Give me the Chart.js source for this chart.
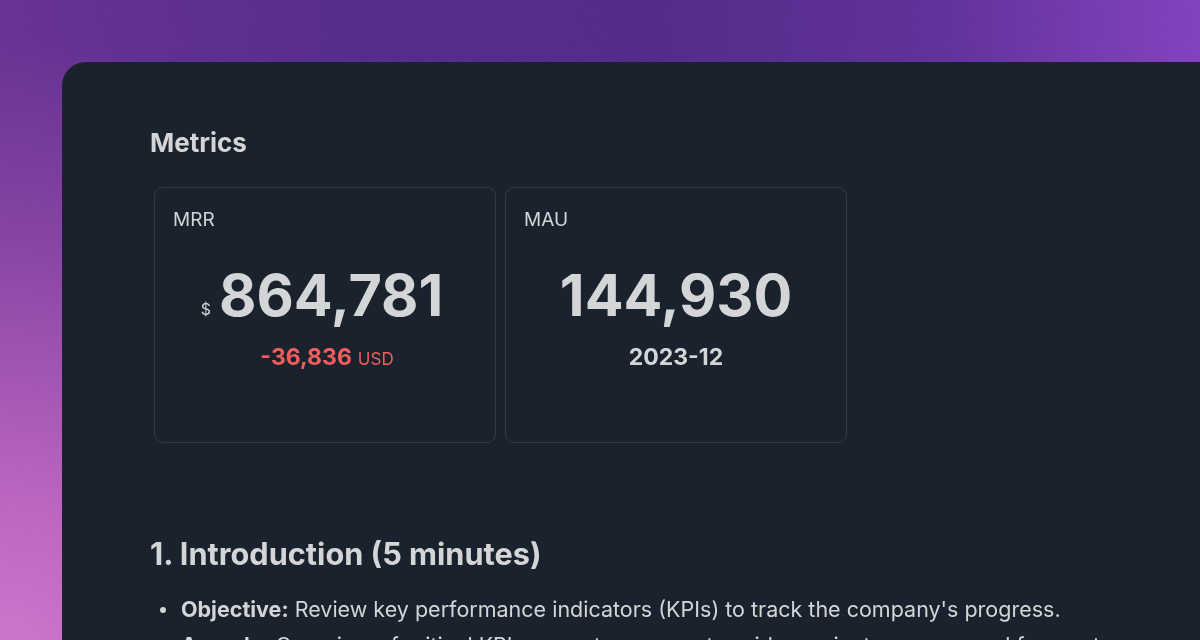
<!DOCTYPE html>
<html>
<head>
<meta charset="utf-8">
<script src="https://cdn.jsdelivr.net/npm/chart.js@4"></script>
<style>
html, body { margin: 0; width: 1200px; height: 640px; overflow: hidden; }
body {
    position: relative;
    font-family: Inter, sans-serif;
    background:
        radial-gradient(ellipse 600px 640px at 0px 680px, #cf74cc 0%, #b861bd 28%, rgba(130,66,160,0.9) 70%, rgba(110,55,150,0) 100%),
        linear-gradient(90deg, #63308e 0%, #522a85 30%, #4f2a82 55%, #5c2f94 78%, #7d3fbb 100%);
}
#noise { position: absolute; inset: 0; width: 1200px; height: 640px; opacity: 0.22; mix-blend-mode: overlay; }
#panel {
    position: absolute; left: 62px; top: 62px; width: 1200px; height: 640px;
    background: #1a222d; border-radius: 24px;
}
.abs { position: absolute; white-space: nowrap; color: #d4d5d7; }
#heading { left: 150px; top: 128px; font-size: 26px; line-height: 30px; font-weight: 700; }
#section { left: 150px; top: 535px; font-size: 30.7px; line-height: 38px; font-weight: 700; }
#line1 { left: 181px; top: 596px; font-size: 21.5px; line-height: 26px; }
#line2 { left: 181px; top: 632px; font-size: 21.5px; line-height: 26px; }
.abs b { font-weight: 700; }
.dot { position: absolute; left: 160px; width: 6px; height: 6px; border-radius: 50%; background: #d4d5d7; }
.card {
    position: absolute; top: 187px; width: 340px; height: 254px;
    border: 1.5px solid #323a46; border-radius: 9px;
}
.card canvas { position: absolute; left: 0; top: 0; }
</style>
</head>
<body>
<svg id="noise" xmlns="http://www.w3.org/2000/svg">
    <filter id="grain"><feTurbulence type="fractalNoise" baseFrequency="0.8" numOctaves="2"/><feColorMatrix type="saturate" values="0"/></filter>
    <rect width="1200" height="640" filter="url(#grain)"/>
</svg>
<div id="panel"></div>
<div class="abs" id="heading">Metrics</div>
<div class="card" style="left:154px"><canvas id="chart-mrr"></canvas></div>
<div class="card" style="left:504.5px"><canvas id="chart-mau"></canvas></div>
<div class="abs" id="section">1. Introduction (5 minutes)</div>
<div class="dot" style="top:607px"></div>
<div class="abs" id="line1"><b>Objective:</b> Review key performance indicators (KPIs) to track the company's progress.</div>
<div class="dot" style="top:643px"></div>
<div class="abs" id="line2"><b>Agenda:</b> Overview of critical KPIs, recent movements, wider project progress and forecasts</div>
<script>
// ================= DATA =================
const cardLabels = ['MRR', 'MAU'];
const cardValues = [864781, 144930];
const cardPrefixes = ['$', ''];
const cardNotes = ['-36,836', '2023-12'];
const cardNoteUnits = ['USD', ''];
const cardNoteColors = ['#f25c5c', '#d4d5d7'];

const TEXT = '#d4d5d7';
const FONT = 'Inter, sans-serif';

// writes the KPI card text from the chart's own data
const kpiText = {
    id: 'kpiText',
    afterDraw(chart, args, opts) {
        const ctx = chart.ctx;
        const i = opts.index;
        const mid = chart.width / 2;
        const value = chart.data.datasets[0].data[0].toLocaleString('en-US');
        ctx.save();
        ctx.textBaseline = 'alphabetic';
        ctx.textAlign = 'left';

        ctx.fillStyle = TEXT;
        ctx.font = '400 19px ' + FONT;
        ctx.fillText(chart.data.labels[0], 18, 38);

        ctx.font = '700 57.5px ' + FONT;
        const w = ctx.measureText(value).width;
        const prefix = cardPrefixes[i];
        ctx.font = '400 16px ' + FONT;
        const pw = prefix ? ctx.measureText(prefix).width + 8 : 0;
        const x = mid - (w + pw) / 2 - (prefix ? 3 : 0);
        if (prefix) ctx.fillText(prefix, x, 127);
        ctx.font = '700 57.5px ' + FONT;
        ctx.fillText(value, x + pw, 128);

        ctx.fillStyle = cardNoteColors[i];
        ctx.font = '700 23px ' + FONT;
        const nw = ctx.measureText(cardNotes[i]).width;
        const unit = cardNoteUnits[i];
        ctx.font = '400 17px ' + FONT;
        const uw = unit ? ctx.measureText(unit).width + 6 : 0;
        const nx = mid - (nw + uw) / 2 + (unit ? 2 : 0);
        if (unit) ctx.fillText(unit, nx + nw + 6, 177);
        ctx.font = '700 23px ' + FONT;
        ctx.fillText(cardNotes[i], nx, 177);
        ctx.restore();
    }
};

function drawCard(id, i) {
    new Chart(document.getElementById(id), {
        type: 'bar',
        data: {
            labels: [cardLabels[i]],
            datasets: [{ data: [cardValues[i]], backgroundColor: 'transparent' }]
        },
        options: {
            responsive: false,
            animation: false,
            plugins: { legend: { display: false }, tooltip: { enabled: false }, kpiText: { index: i } },
            scales: { x: { display: false }, y: { display: false } }
        },
        plugins: [kpiText]
    });
}

function setSize(id) {
    const c = document.getElementById(id);
    c.width = 340; c.height = 254;
    c.style.width = '340px'; c.style.height = '254px';
}

setSize('chart-mrr');
setSize('chart-mau');
document.fonts.load('700 58px Inter').finally(() => {
    drawCard('chart-mrr', 0);
    drawCard('chart-mau', 1);
});
</script>
</body>
</html>
